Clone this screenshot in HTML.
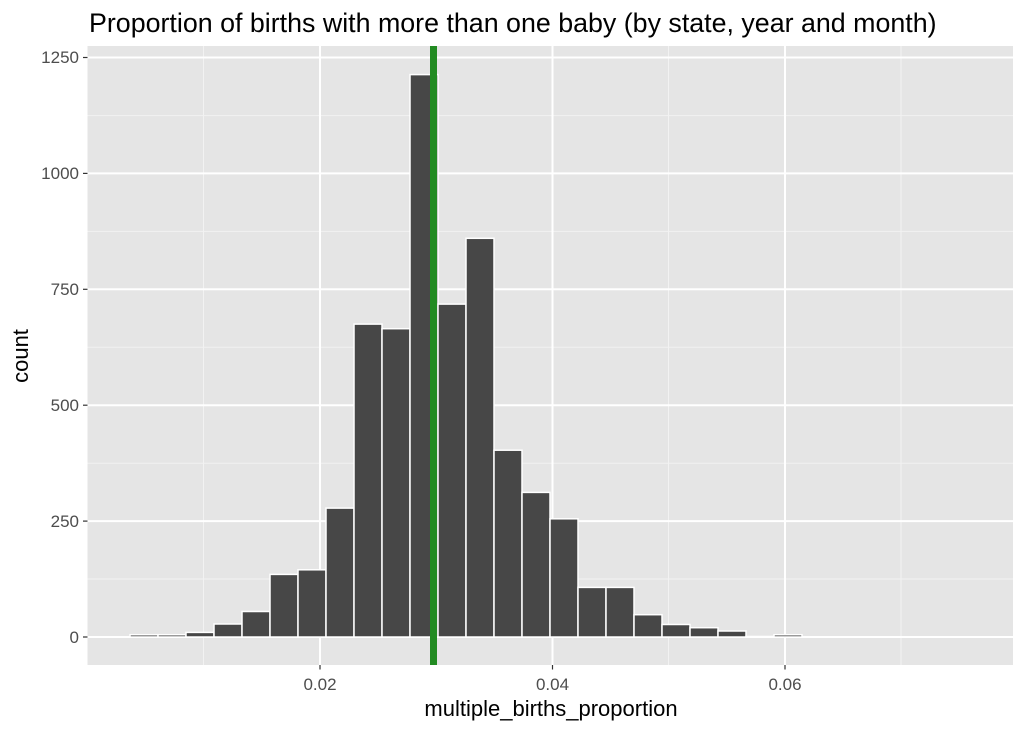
<!DOCTYPE html>
<html><head><meta charset="utf-8"><style>body{margin:0;background:#fff}svg{display:block}</style></head><body>
<svg width="1024" height="731" xmlns="http://www.w3.org/2000/svg" font-family="Liberation Sans, sans-serif">
<rect x="0" y="0" width="1024" height="731" fill="#fff"/>
<text x="89" y="32" font-size="26.8" fill="#000">Proportion of births with more than one baby (by state, year and month)</text>
<rect x="87.5" y="46" width="925.5" height="619" fill="#e5e5e5"/>
<g stroke="#f2f2f2" stroke-width="1">
<line x1="87.5" x2="1013" y1="579" y2="579"/><line x1="87.5" x2="1013" y1="463.2" y2="463.2"/><line x1="87.5" x2="1013" y1="347.3" y2="347.3"/><line x1="87.5" x2="1013" y1="231.4" y2="231.4"/><line x1="87.5" x2="1013" y1="115.6" y2="115.6"/>
<line y1="46" y2="665" x1="203.5" x2="203.5"/><line y1="46" y2="665" x1="436" x2="436"/><line y1="46" y2="665" x1="668.5" x2="668.5"/><line y1="46" y2="665" x1="901" x2="901"/>
</g>
<g stroke="#fff" stroke-width="2">
<line x1="87.5" x2="1013" y1="637" y2="637"/><line x1="87.5" x2="1013" y1="521.1" y2="521.1"/><line x1="87.5" x2="1013" y1="405.2" y2="405.2"/><line x1="87.5" x2="1013" y1="289.3" y2="289.3"/><line x1="87.5" x2="1013" y1="173.4" y2="173.4"/><line x1="87.5" x2="1013" y1="57.5" y2="57.5"/>
<line y1="46" y2="665" x1="320" x2="320"/><line y1="46" y2="665" x1="552.5" x2="552.5"/><line y1="46" y2="665" x1="785" x2="785"/>
</g>
<g fill="#474747" stroke="#fff" stroke-width="1.5">
<rect x="130" y="634.7" width="28" height="2.3"/>
<rect x="158" y="634.7" width="28" height="2.3"/>
<rect x="186" y="632.4" width="28" height="4.6"/>
<rect x="214" y="624" width="28" height="13"/>
<rect x="242" y="611.5" width="28" height="25.5"/>
<rect x="270" y="574.4" width="28" height="62.6"/>
<rect x="298" y="569.8" width="28" height="67.2"/>
<rect x="326" y="508.1" width="28" height="128.9"/>
<rect x="354" y="324.1" width="28" height="312.9"/>
<rect x="382" y="328.7" width="28" height="308.3"/>
<rect x="410" y="74.6" width="28" height="562.4"/>
<rect x="438" y="304.1" width="28" height="332.9"/>
<rect x="466" y="238.3" width="28" height="398.7"/>
<rect x="494" y="450.2" width="28" height="186.8"/>
<rect x="522" y="492.4" width="28" height="144.6"/>
<rect x="550" y="518.8" width="28" height="118.2"/>
<rect x="578" y="587.4" width="28" height="49.6"/>
<rect x="606" y="587.4" width="28" height="49.6"/>
<rect x="634" y="614.7" width="28" height="22.3"/>
<rect x="662" y="624.5" width="28" height="12.5"/>
<rect x="690" y="627.7" width="28" height="9.3"/>
<rect x="718" y="631" width="28" height="6"/>
<rect x="746" y="636.5" width="28" height="0.5"/>
<rect x="774" y="634.7" width="28" height="2.3"/>
</g>
<line x1="433.5" x2="433.5" y1="46" y2="665" stroke="#228b22" stroke-width="7"/>
<g stroke="#333" stroke-width="1.2">
<line x1="83" x2="87.5" y1="637" y2="637"/><line x1="83" x2="87.5" y1="521.1" y2="521.1"/><line x1="83" x2="87.5" y1="405.2" y2="405.2"/><line x1="83" x2="87.5" y1="289.3" y2="289.3"/><line x1="83" x2="87.5" y1="173.4" y2="173.4"/><line x1="83" x2="87.5" y1="57.5" y2="57.5"/>
<line y1="665" y2="669.5" x1="320" x2="320"/><line y1="665" y2="669.5" x1="552.5" x2="552.5"/><line y1="665" y2="669.5" x1="785" x2="785"/>
</g>
<g font-size="17" fill="#4d4d4d" text-anchor="end">
<text x="79" y="643">0</text><text x="79" y="527">250</text><text x="79" y="411">500</text><text x="79" y="295">750</text><text x="79" y="179">1000</text><text x="79" y="63">1250</text>
</g>
<g font-size="17" fill="#4d4d4d" text-anchor="middle">
<text x="320" y="690">0.02</text><text x="552.5" y="690">0.04</text><text x="785" y="690">0.06</text>
</g>
<text x="551" y="716" font-size="22" text-anchor="middle" fill="#000">multiple_births_proportion</text>
<text transform="translate(28,356) rotate(-90)" font-size="22" text-anchor="middle" fill="#000">count</text>
</svg>
</body></html>
